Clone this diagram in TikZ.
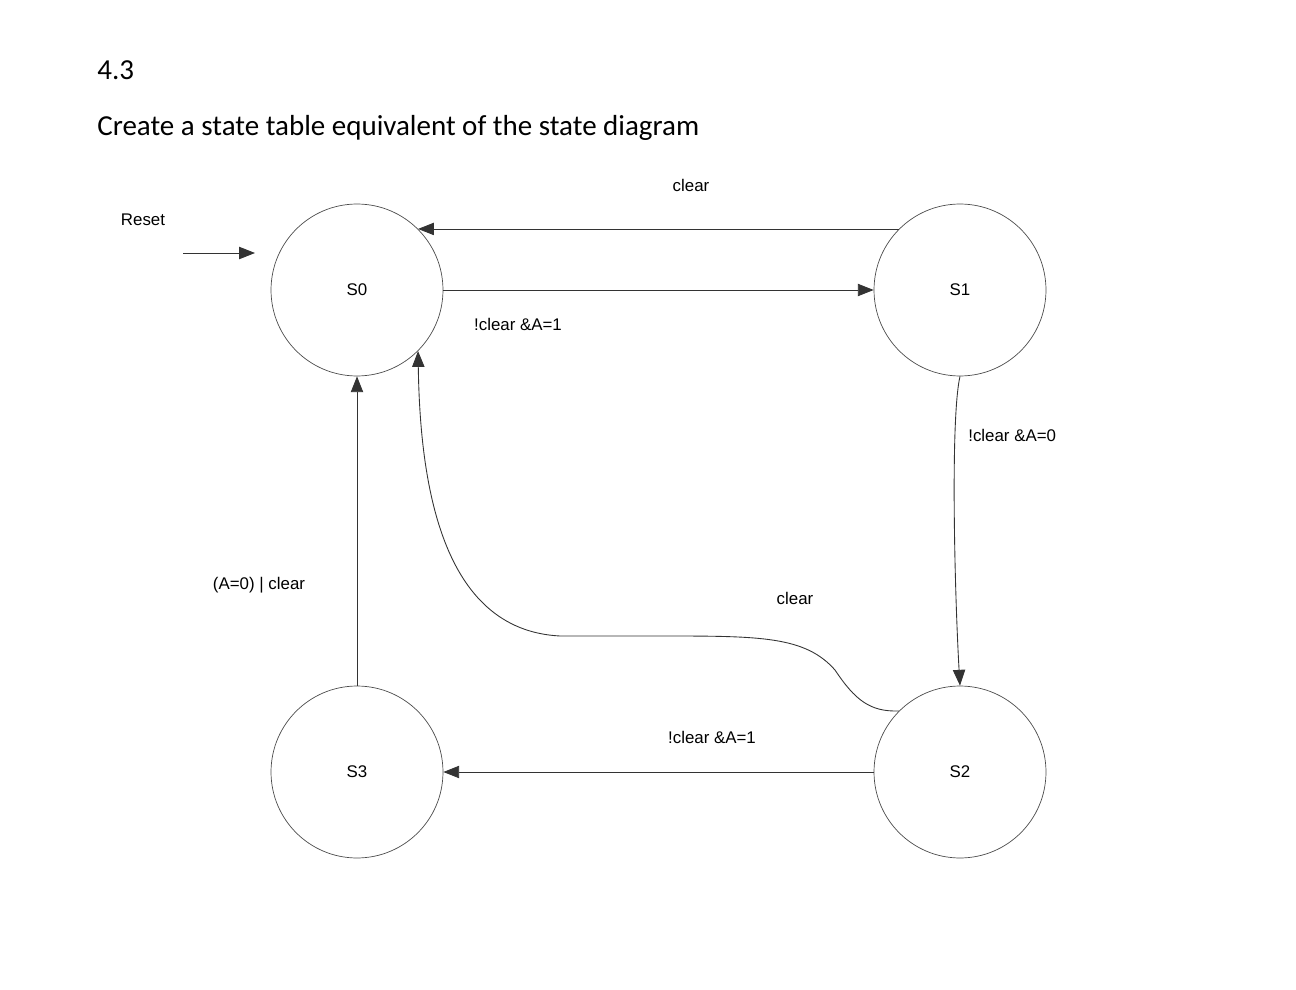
\documentclass[tikz,border=0pt]{standalone}
\usepackage{fontspec}
\setmainfont{Liberation Sans}
\newfontfamily\titlefont{Carlito}
\usetikzlibrary{arrows.meta}
\begin{document}
\begin{tikzpicture}[x=0.02cm,y=-0.02cm,
  st/.style={draw=black!70,circle,minimum size=3.44cm,inner sep=0pt,font=\fontsize{9.6pt}{11pt}\selectfont},
  lbl/.style={font=\fontsize{9.6pt}{11pt}\selectfont,inner sep=0pt},
  tr/.style={draw=black!80,line width=0.5pt,-{Triangle[length=9pt,width=7pt]}}]
\useasboundingbox (0,0) rectangle (1296,990);
\node[anchor=west,inner sep=0pt,font=\titlefont\fontsize{16.5pt}{18pt}\selectfont] (num) at (97,70) {4.3};
\node[anchor=west,inner sep=0pt,font=\titlefont\fontsize{16.5pt}{18pt}\selectfont] (title) at (97,128) {Create a state table equivalent of the state diagram};
\node[st] (s0) at (357,290) {S0};
\node[st] (s1) at (960,290) {S1};
\node[st] (s2) at (960,772) {S2};
\node[st] (s3) at (357,772) {S3};
\node[lbl] (reset) at (143,220) {Reset};
\coordinate (r1) at (183,253);
\coordinate (r2) at (255,253);
\draw[tr] (r1) -- (r2);
\draw[tr] (s1.135) -- (s0.45);
\node[lbl] (l1) at (691,185) {clear};
\draw[tr] (s0.east) -- (s1.west);
\node[lbl] (l2) at (518,324) {!clear \&A=1};
\draw[tr] (s1.south) .. controls (950,420) and (955,600) .. (s2.north) ;
\node[lbl,anchor=west] (l3) at (968,435) {!clear \&A=0};
\draw[tr] (s2.west) -- (s3.east);
\node[lbl] (l4) at (712,737) {!clear \&A=1};
\draw[tr] (s3.north) -- (s0.south);
\node[lbl] (l5) at (259,585) {(A=0) | clear};
\draw[tr] (s2.135) .. controls (870,712) and (855,700) .. (835,670) .. controls (805,636) and (760,636) .. (660,636) -- (560,636) .. controls (440,630) and (420,480) .. (s0.-45);
\node[lbl] (l6) at (795,598) {clear};
\end{tikzpicture}
\end{document}
